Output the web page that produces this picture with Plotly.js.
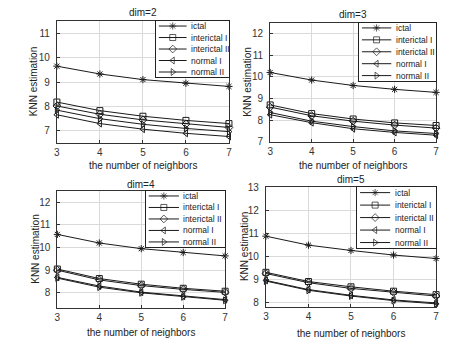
<!DOCTYPE html>
<html><head><meta charset="utf-8">
<script src="https://cdn.plot.ly/plotly-3.0.1.min.js"></script>
<style>html,body{margin:0;padding:0;background:#fff}#chart{width:474px;height:344px}</style>
</head><body><div id="chart"></div>
<script>
// ---- data ----
const neighbors = [3, 4, 5, 6, 7];
const seriesNames = ['ictal', 'interictal I', 'interictal II', 'normal I', 'normal II'];
const panelTitles = ['dim=2', 'dim=3', 'dim=4', 'dim=5'];
const xTitle = 'the number of neighbors';
const yTitle = 'KNN estimation';

const dim2_ictal        = [9.65, 9.33, 9.10, 8.95, 8.82];
const dim2_interictalI  = [8.18, 7.83, 7.60, 7.43, 7.30];
const dim2_interictalII = [8.02, 7.68, 7.45, 7.28, 7.14];
const dim2_normalI      = [7.66, 7.30, 7.07, 6.90, 6.77];
const dim2_normalII     = [7.85, 7.50, 7.27, 7.10, 6.97];

const dim3_ictal        = [10.20, 9.85, 9.60, 9.42, 9.28];
const dim3_interictalI  = [8.70, 8.30, 8.05, 7.87, 7.75];
const dim3_interictalII = [8.60, 8.20, 7.95, 7.77, 7.63];
const dim3_normalI      = [8.25, 7.88, 7.60, 7.43, 7.30];
const dim3_normalII     = [8.35, 7.95, 7.70, 7.50, 7.38];

const dim4_ictal        = [10.58, 10.20, 9.95, 9.78, 9.63];
const dim4_interictalI  = [9.05, 8.63, 8.38, 8.20, 8.07];
const dim4_interictalII = [9.00, 8.57, 8.32, 8.15, 8.02];
const dim4_normalI      = [8.68, 8.30, 8.03, 7.85, 7.70];
const dim4_normalII     = [8.65, 8.25, 8.00, 7.82, 7.67];

const dim5_ictal        = [10.87, 10.48, 10.25, 10.05, 9.90];
const dim5_interictalI  = [9.30, 8.90, 8.67, 8.48, 8.33];
const dim5_interictalII = [9.25, 8.85, 8.60, 8.43, 8.27];
const dim5_normalI      = [8.95, 8.55, 8.30, 8.10, 7.97];
const dim5_normalII     = [8.92, 8.52, 8.27, 8.07, 7.93];

// ---- styling / layout ----
const symbols = ['asterisk-open', 'square-open', 'diamond-open', 'triangle-left-open', 'triangle-right-open'];
const ink = '#1a1a1a';
const FONT = 'Liberation Sans, Arial, sans-serif';

const panels = [
  {title: panelTitles[0], data: [dim2_ictal, dim2_interictalI, dim2_interictalII, dim2_normalI, dim2_normalII],
   yrange: [6.5, 11.5], xdom: [0.120, 0.483], ydom: [0.584, 0.939], legx: [0.329, 0.483], legy: [0.776, 0.939],
   ty: 0.963, xtY: 0.518, ytX: 0.070},
  {title: panelTitles[1], data: [dim3_ictal, dim3_interictalI, dim3_interictalII, dim3_normalI, dim3_normalII],
   yrange: [7, 12.5], xdom: [0.570, 0.920], ydom: [0.588, 0.934], legx: [0.757, 0.920], legy: [0.765, 0.934],
   ty: 0.959, xtY: 0.518, ytX: 0.522},
  {title: panelTitles[2], data: [dim4_ictal, dim4_interictalI, dim4_interictalII, dim4_normalI, dim4_normalII],
   yrange: [7.35, 12.5], xdom: [0.121, 0.475], ydom: [0.106, 0.445], legx: [0.307, 0.475], legy: [0.282, 0.445],
   ty: 0.463, xtY: 0.033, ytX: 0.075},
  {title: panelTitles[3], data: [dim5_ictal, dim5_interictalI, dim5_interictalII, dim5_normalI, dim5_normalII],
   yrange: [7.8, 13], xdom: [0.561, 0.920], ydom: [0.108, 0.456], legx: [0.753, 0.920], legy: [0.279, 0.456],
   ty: 0.479, xtY: 0.031, ytX: 0.517}
];

const traces = [];
const annotations = [];
const layout = {
  width: 474, height: 344,
  margin: {l: 0, r: 0, t: 0, b: 0},
  paper_bgcolor: '#fff', plot_bgcolor: '#fff',
  font: {family: FONT, size: 10, color: '#222'},
  showlegend: false,
  annotations: annotations
};

panels.forEach((p, k) => {
  const n = k + 1;
  const xa = n === 1 ? 'x' : 'x' + n;
  const ya = n === 1 ? 'y' : 'y' + n;
  p.data.forEach((vals, i) => {
    traces.push({
      type: 'scatter', mode: 'lines+markers', x: neighbors, y: vals, xaxis: xa, yaxis: ya,
      name: seriesNames[i], cliponaxis: false,
      line: {color: ink, width: 1},
      marker: {symbol: symbols[i], size: 6, color: ink, line: {width: 1, color: ink}}
    });
  });
  const common = {
    showline: true, mirror: true, linecolor: '#333', linewidth: 1,
    showgrid: true, gridcolor: '#dadada', gridwidth: 1, zeroline: false,
    ticks: 'inside', ticklen: 3, tickcolor: '#333', tickfont: {size: 10, color: '#333'},
    dtick: 1, fixedrange: true
  };
  layout['xaxis' + (n === 1 ? '' : n)] = Object.assign({}, common, {
    domain: p.xdom, anchor: ya, range: [3, 7], tick0: 3, ticklabelstandoff: 0
  });
  layout['yaxis' + (n === 1 ? '' : n)] = Object.assign({}, common, {
    domain: p.ydom, anchor: xa, range: p.yrange, tick0: 0, ticklabelstandoff: 4
  });
  // subplot title and axis titles
  annotations.push({
    xref: 'paper', yref: 'paper', x: (p.xdom[0] + p.xdom[1]) / 2, y: p.ty,
    xanchor: 'center', yanchor: 'middle', showarrow: false,
    text: p.title, font: {size: 10, color: '#222'}
  });
  annotations.push({
    xref: 'paper', yref: 'paper', x: (p.xdom[0] + p.xdom[1]) / 2, y: p.xtY,
    xanchor: 'center', yanchor: 'middle', showarrow: false,
    text: xTitle, font: {size: 10, color: '#222'}
  });
  annotations.push({
    xref: 'paper', yref: 'paper', x: p.ytX, y: (p.ydom[0] + p.ydom[1]) / 2,
    xanchor: 'center', yanchor: 'middle', showarrow: false, textangle: -90,
    text: yTitle, font: {size: 10, color: '#222'}
  });

  // inset legend subplot
  const ln = n + 4;
  const lx = 'x' + ln, ly = 'y' + ln;
  const legAxis = {
    range: [0, 1], showgrid: false, zeroline: false, showticklabels: false, ticks: '',
    showline: true, mirror: true, linecolor: '#222', linewidth: 1, fixedrange: true
  };
  layout['xaxis' + ln] = Object.assign({}, legAxis, {domain: p.legx, anchor: ly});
  layout['yaxis' + ln] = Object.assign({}, legAxis, {domain: p.legy, anchor: lx});
  seriesNames.forEach((nm, i) => {
    const yy = 1 - (0.09 + i * 0.205);
    traces.push({
      type: 'scatter', mode: 'lines+markers', x: [0.04, 0.23, 0.42], y: [yy, yy, yy],
      xaxis: lx, yaxis: ly, hoverinfo: 'skip', showlegend: false, cliponaxis: false,
      line: {color: ink, width: 1},
      marker: {symbol: symbols[i], size: [0, 6, 0], color: ink, line: {width: 1, color: ink}}
    });
    annotations.push({
      xref: lx, yref: ly, x: 0.45, y: yy, xanchor: 'left', yanchor: 'middle',
      showarrow: false, text: nm, font: {size: 8.5, color: '#222'}
    });
  });
});

Plotly.newPlot('chart', traces, layout, {displayModeBar: false, staticPlot: true});
</script>
</body></html>
